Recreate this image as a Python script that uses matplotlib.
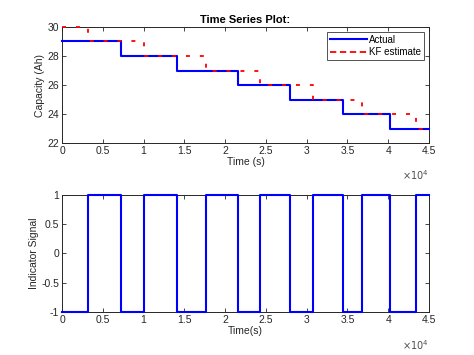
import matplotlib
matplotlib.use("Agg")
import matplotlib.pyplot as plt
import numpy as np

plt.rcParams['font.family'] = ['Liberation Sans', 'DejaVu Sans']

# Step change times (s) of actual capacity and capacity levels (Ah)
actual_times = [0, 7280, 14150, 21600, 28000, 34400, 40200, 45000]
actual_caps = [29, 28, 27, 26, 25, 24, 23, 23]

# KF estimate change times (s) and levels (Ah)
kf_times = [0, 3150, 10100, 17700, 24300, 30750, 36800, 43350, 45000]
kf_caps = [30, 29, 28, 27, 26, 25, 24, 23, 23]

# Indicator signal switch times (s) and values
ind_times = [0, 3150, 7280, 10100, 14150, 17700, 21600, 24300, 28000, 30750,
             34400, 36800, 40200, 43350, 45000]
ind_vals = [-1, 1, -1, 1, -1, 1, -1, 1, -1, 1, -1, 1, -1, 1, 1]

xticks = [0, 5000, 10000, 15000, 20000, 25000, 30000, 35000, 40000, 45000]
xticklabels = ['0', '0.5', '1', '1.5', '2', '2.5', '3', '3.5', '4', '4.5']
cap_ticks = [22, 24, 26, 28, 30]
ind_ticks = [-1, -0.5, 0, 0.5, 1]
ind_ticklabels = ['-1', '-0.5', '0', '0.5', '1']

fig = plt.figure(figsize=(4.74, 3.55), dpi=100)
ax1 = fig.add_axes([0.131, 0.597, 0.774, 0.327])
ax2 = fig.add_axes([0.131, 0.121, 0.774, 0.330])

edge = (0.15, 0.15, 0.15)
fs = 7.5

ax1.step(actual_times, actual_caps, where='post', color=(0, 0, 1), lw=1.5,
         label='Actual', clip_on=False, zorder=3)
ax1.step(kf_times, kf_caps, where='post', color=(1, 0, 0), lw=1.3,
         ls=(0, (2.2, 5.5)), label='KF estimate', clip_on=False, zorder=4)
ax1.set_xlim(0, 45000)
ax1.set_ylim(22, 30)
ax1.set_yticks(cap_ticks)
ax1.set_xticks(xticks)
ax1.set_xticklabels(xticklabels)
ax1.set_ylabel('Capacity (Ah)', fontsize=fs, color=edge, labelpad=2)
ax1.set_xlabel('Time (s)', fontsize=fs, color=edge, labelpad=1)
ax1.set_title('Time Series Plot:', fontsize=fs + 0.5, fontweight='bold', pad=3)
leg = ax1.legend(loc='upper right', fontsize=7, frameon=True, fancybox=False,
                 edgecolor=edge, handlelength=3.8, borderpad=0.3, labelspacing=0.25,
                 handletextpad=0.2, borderaxespad=0.5)
leg.get_frame().set_linewidth(0.7)
leg.set_zorder(10)
for h in leg.get_lines():
    if h.get_label() == 'KF estimate':
        h.set_linestyle((0, (3.5, 2)))
ax1.text(1.0, -0.22, r'$\times10^4$', transform=ax1.transAxes, ha='right', va='top',
         fontsize=fs - 0.5, color=(0.3, 0.3, 0.3))

ax2.step(ind_times, ind_vals, where='post', color=(0, 0, 1), lw=1.5,
         clip_on=False, zorder=3)
ax2.set_xlim(0, 45000)
ax2.set_ylim(-1, 1)
ax2.set_yticks(ind_ticks)
ax2.set_yticklabels(ind_ticklabels)
ax2.set_xticks(xticks)
ax2.set_xticklabels(xticklabels)
ax2.set_ylabel('Indicator Signal', fontsize=fs, color=edge, labelpad=2)
ax2.set_xlabel('Time(s)', fontsize=fs, color=edge, labelpad=1)
ax2.text(1.0, -0.22, r'$\times10^4$', transform=ax2.transAxes, ha='right', va='top',
         fontsize=fs - 0.5, color=(0.3, 0.3, 0.3))

for ax in (ax1, ax2):
    for s in ax.spines.values():
        s.set_color(edge)
        s.set_linewidth(0.7)
        s.set_zorder(1)
    ax.tick_params(direction='in', top=True, right=True, length=3, width=0.6,
                   labelsize=fs, colors=edge, pad=2)

fig.savefig('out.png', dpi=100)
